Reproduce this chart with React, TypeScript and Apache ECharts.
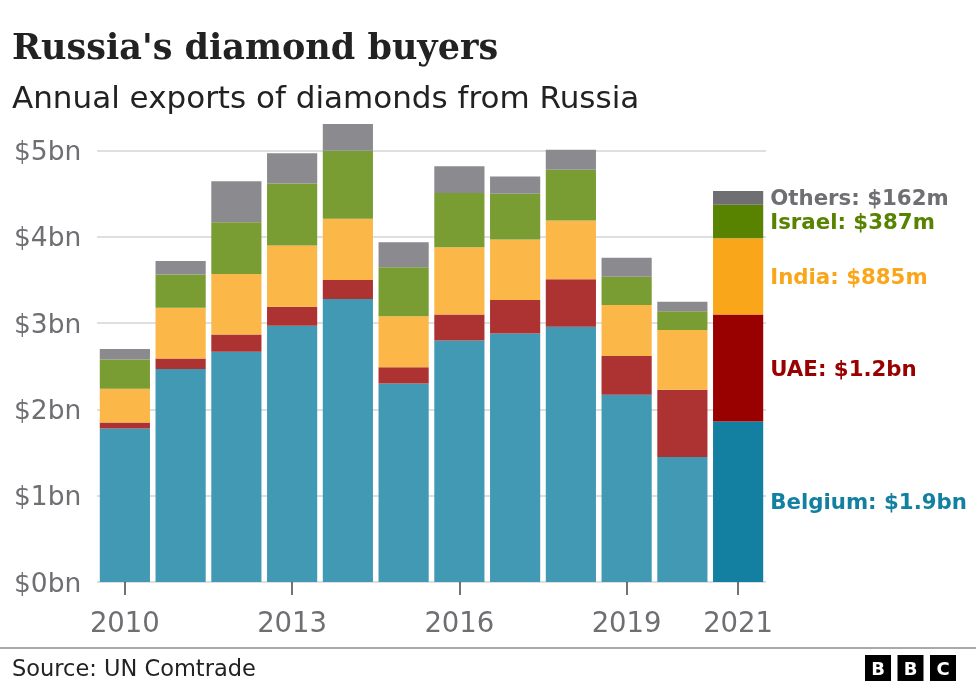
import React, { useEffect, useRef } from "react";
import * as echarts from "echarts";

const years = ["2010", "2011", "2012", "2013", "2014", "2015", "2016", "2017", "2018", "2019", "2020", "2021"];
// values in $bn
const belgium = [1.78, 2.47, 2.67, 2.97, 3.28, 2.3, 2.8, 2.88, 2.96, 2.17, 1.45, 1.86];
const uae = [0.07, 0.12, 0.2, 0.22, 0.22, 0.19, 0.3, 0.39, 0.55, 0.45, 0.78, 1.24];
const india = [0.39, 0.59, 0.7, 0.71, 0.71, 0.59, 0.78, 0.7, 0.68, 0.59, 0.69, 0.885];
const israel = [0.34, 0.385, 0.6, 0.72, 0.79, 0.57, 0.63, 0.53, 0.59, 0.33, 0.22, 0.387];
const others = [0.12, 0.155, 0.475, 0.35, 0.31, 0.29, 0.31, 0.2, 0.23, 0.22, 0.11, 0.162];

const seriesNames = ["Belgium", "UAE", "India", "Israel", "Others"];
const lastLabels = ["Belgium: $1.9bn", "UAE: $1.2bn", "India: $885m", "Israel: $387m", "Others: $162m"];
const yTicks = [0, 1, 2, 3, 4, 5];
const shownYears = ["2010", "2013", "2016", "2019", "2021"];

const fullColors = ["#1380A1", "#990000", "#FAA61A", "#588300", "#6E6E73"];
const lightColors = ["#4299B4", "#AD3333", "#FBB848", "#799C33", "#8B8B8F"];

const SANS = '"DejaVu Sans", "Noto Sans", sans-serif';

export default function App() {
  const ref = useRef<HTMLDivElement>(null);
  useEffect(() => {
    if (!ref.current) return;
    document.body.style.margin = "0";
    const chart = echarts.init(ref.current, undefined, { renderer: "svg" });
    const all = [belgium, uae, india, israel, others];
    const series = all.map((vals, si) => ({
      name: seriesNames[si],
      type: "bar",
      stack: "total",
      clip: false,
      barCategoryGap: "10%",
      itemStyle: { color: lightColors[si] },
      data: vals.map((v, i) =>
        i === vals.length - 1
          ? {
              value: v,
              itemStyle: { color: fullColors[si] },
              label: {
                show: true,
                position: "right",
                distance: 7,
                formatter: lastLabels[si],
                color: fullColors[si],
                fontSize: 21.3,
                lineHeight: 21,
                fontWeight: "bold",
                fontFamily: SANS,
              },
            }
          : v
      ),
    }));

    chart.setOption({
      animation: false,
      grid: { left: 97, right: 210, top: 150.7, bottom: 104, containLabel: false, outerBoundsMode: "none" },
      xAxis: {
        type: "category",
        data: years,
        axisLine: { show: false },
        axisTick: {
          show: true,
          alignWithLabel: true,
          length: 13,
          interval: (i: number, v: string) => shownYears.includes(v),
          lineStyle: { color: "#444", width: 1.5 },
        },
        axisLabel: {
          interval: (i: number, v: string) => shownYears.includes(v),
          color: "#6E6E73",
          fontSize: 27.5,
          fontFamily: SANS,
          margin: 26,
        },
      },
      yAxis: {
        type: "value",
        min: yTicks[0],
        max: yTicks[yTicks.length - 1],
        interval: 1,
        axisLine: { show: false },
        axisTick: { show: false },
        splitLine: { lineStyle: { color: "#D5D5D5", width: 1.5 } },
        axisLabel: {
          formatter: (v: number) => `$${v}bn`,
          color: "#6E6E73",
          fontSize: 26.5,
          fontFamily: SANS,
          align: "left",
          margin: 83,
        },
      },
      graphic: [
        {
          type: "text",
          style: {
            text: "Russia's diamond buyers",
            x: 12,
            y: 46,
            verticalAlign: "middle",
            fill: "#222",
            font: 'bold 35px "DejaVu Serif", serif',
          },
        },
        {
          type: "text",
          style: {
            text: "Annual exports of diamonds from Russia",
            x: 12,
            y: 97,
            verticalAlign: "middle",
            fill: "#222",
            font: `31px ${SANS}`,
          },
        },
        {
          type: "line",
          shape: { x1: 0, y1: 648, x2: 976, y2: 648 },
          style: { stroke: "#555", lineWidth: 1.2 },
        },
        {
          type: "text",
          style: {
            text: "Source: UN Comtrade",
            x: 12,
            y: 668,
            verticalAlign: "middle",
            fill: "#222",
            font: `22.5px ${SANS}`,
          },
        },
        ...["B", "B", "C"].flatMap((ch, k) => [
          {
            type: "rect",
            shape: { x: 865 + k * 32.5, y: 655, width: 26, height: 26 },
            style: { fill: "#000" },
          },
          {
            type: "text",
            style: {
              text: ch,
              x: 865 + k * 32.5 + 13,
              y: 668.5,
              align: "center",
              verticalAlign: "middle",
              fill: "#fff",
              font: `bold 18px ${SANS}`,
            },
          },
        ]),
      ],
      series,
    });
    return () => chart.dispose();
  }, []);
  return <div ref={ref} style={{ position: "fixed", left: 0, top: 0, width: 976, height: 686 }} />;
}
